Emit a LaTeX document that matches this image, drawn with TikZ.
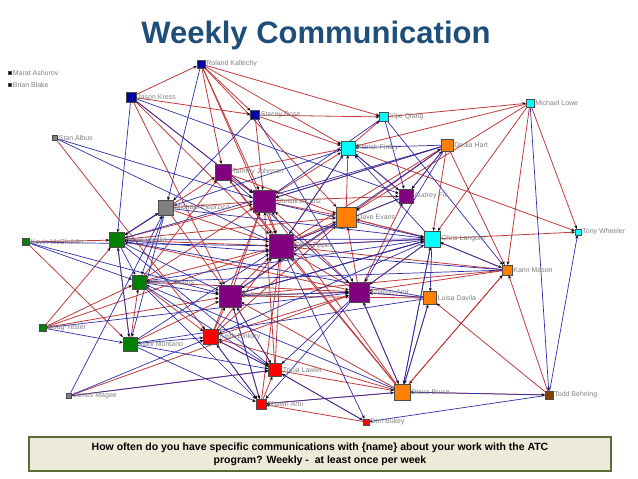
\documentclass[tikz,border=0pt]{standalone}
\usepackage{fontspec}
\setmainfont{Liberation Sans}
\usetikzlibrary{arrows.meta,backgrounds}
\definecolor{ttl}{HTML}{1F4E79}
\definecolor{re}{HTML}{C03A3A}
\definecolor{be}{HTML}{2E2EA8}
\definecolor{cnavy}{HTML}{0000A0}
\definecolor{ccyan}{HTML}{00FFFF}
\definecolor{corange}{HTML}{FF8000}
\definecolor{cpurple}{HTML}{800080}
\definecolor{cgray}{HTML}{808080}
\definecolor{cgreen}{HTML}{008000}
\definecolor{cred}{HTML}{FF0000}
\definecolor{cbrown}{HTML}{804000}
\definecolor{boxf}{HTML}{EEEADA}
\definecolor{boxd}{HTML}{5B6B3A}
\tikzset{
 lbl/.style={font=\fontsize{7}{8}\selectfont, text=gray, inner sep=1pt},
 nd/.style={draw=black!70, line width=0.3pt, inner sep=0pt, minimum size=#1},
 redge/.style={draw=re, line width=0.8pt, -{Stealth[length=3.5pt,width=3pt,black]}},
 bedge/.style={draw=be, line width=0.7pt, -{Stealth[length=3.5pt,width=3pt,black]}}
}
\newcommand{\nd}[7]{\node[nd=#4, fill=#5, label={[lbl]east:#6}] (#1) at (#2,#3) {};}
\begin{document}
\begin{tikzpicture}[x=1pt,y=-1pt]
\useasboundingbox (0,0) rectangle (638,479);
\node[text=ttl, font=\bfseries\fontsize{31}{34}\selectfont] (title) at (316,35) {Weekly Communication};
\nd{mar}{10}{73}{3}{black}{Marat Ashurov}{}
\nd{bri}{10}{85}{3}{black}{Brian Blake}{}
\nd{rol}{201}{64}{8}{cnavy}{Roland Kallechy}{}
\nd{jas}{131}{97}{10}{cnavy}{Jason Kress}{}
\nd{sta}{255}{115}{9}{cnavy}{Stacey Rose}{}
\nd{stan}{55}{138}{5}{cgray}{Stan Albus}{}
\nd{yij}{384}{117}{9}{ccyan}{Yijie Qiang}{}
\nd{mlo}{530}{103}{8}{ccyan}{Michael Lowe}{}
\nd{pat}{348}{148}{14}{ccyan}{Patrick Finley}{}
\nd{ded}{447}{145}{12}{corange}{Dedia Hart}{}
\nd{tam}{223}{172}{16}{cpurple}{Tammy Johnson}{}
\nd{chr}{264}{201}{22}{cpurple}{Christine Lurtz}{}
\nd{mpi}{166}{208}{15}{cgray}{Michael Pieprzica}{}
\nd{aud}{406}{196}{14}{cpurple}{Audrey Fix}{}
\nd{dav}{346}{217}{20}{corange}{Dave Evans}{}
\nd{ton}{578}{232}{6}{ccyan}{Tony Wheeler}{}
\nd{cla}{432}{239}{16}{ccyan}{Chris Langum}{}
\nd{cti}{281}{246}{24}{cpurple}{Chris Tippett}{}
\nd{kmc}{26}{242}{7}{cgreen}{Kevin McGlothlin}{}
\nd{kbr}{117}{240}{15}{cgreen}{Kevin Breslin}{}
\nd{kar}{507}{270}{10}{corange}{Karin Mason}{}
\nd{vic}{139}{282}{14}{cgreen}{Victoria Owens}{}
\nd{pol}{230}{296}{22}{cpurple}{Polly Kuhner}{}
\nd{col}{359}{292}{20}{cpurple}{Colleen Arni}{}
\nd{lui}{430}{298}{13}{corange}{Luisa Davila}{}
\nd{dou}{43}{328}{7}{cgreen}{Doug Yester}{}
\nd{mmo}{130}{344}{14}{cgreen}{Mark Montano}{}
\nd{kei}{211}{337}{15}{cred}{Keith Binkley}{}
\nd{tri}{275}{370}{13}{cred}{Tricia Lawler}{}
\nd{jam}{69}{396}{5}{cgray}{James Magee}{}
\nd{dia}{402}{392}{16}{corange}{Diana Bruce}{}
\nd{tod}{549}{395}{8}{cbrown}{Todd Behning}{}
\nd{sha}{261}{404}{10}{cred}{Shawn Arni}{}
\nd{don}{366}{422}{6}{cred}{Don Bukey}{}
\begin{scope}[on background layer]
\foreach \a/\b in {rol/sta,rol/tam,rol/chr,rol/cti,rol/yij,rol/pat,rol/dav,jas/rol,jas/sta,jas/chr,jas/cti,jas/pol,stan/kei,sta/yij,sta/pat,sta/chr,yij/mlo,mlo/pat,mlo/cla,mlo/kar,mlo/ton,mlo/dav,ded/cla,ded/kar,ded/dav,ded/chr,pat/ton,cla/ton,cla/kar,cla/cti,cla/pol,cla/dav,kar/cti,kar/pol,kar/col,kar/dia,lui/dia,lui/col,lui/pol,tod/lui,tod/kar,tod/dia,dia/cti,dia/pol,dia/kei,dia/chr,dia/tam,tri/don,tri/kei,tri/pol,tri/cti,tri/chr,sha/pol,sha/kei,sha/cti,sha/tri,don/sha,jam/col,jam/tri,dou/cti,dou/vic,dou/kbr,dou/pol,mmo/kbr,mmo/vic,mmo/pol,kmc/kbr,kmc/mmo,kbr/cti,kbr/tam,kbr/chr,kbr/col,vic/cti,vic/col,vic/chr,vic/tam,pol/cti,pol/chr,pol/col,pol/dav,col/cti,col/dav,col/chr,col/aud,col/cla,tam/chr,tam/cti,tam/dav,chr/dav,chr/aud,chr/pat,chr/cti,cti/dav,cti/aud,cti/pat,cti/ded,kei/cti,kei/chr,kei/col,kei/dav,mpi/chr,mpi/cti,mpi/pol,aud/ded,aud/pat,dav/pat,dav/cla,pat/yij,tam/pat,kei/pol,dia/col,dia/kar,sha/dia,tri/dia,kbr/dav,vic/kei}
  \draw[redge] (\a) -- (\b);
\foreach \a/\b in {jas/kbr,jas/chr,jas/aud,rol/mpi,sta/mpi,sta/col,stan/cti,stan/chr,yij/aud,yij/kar,yij/chr,pat/mpi,pat/aud,pat/cti,ded/aud,ded/pat,ded/pol,ded/col,ded/kbr,ded/chr,aud/cti,cla/pat,cla/dia,cla/kbr,cla/vic,cla/pol,cla/col,cla/kei,cla/lui,mlo/tod,tod/ton,tod/don,dia/tod,dia/sha,dia/vic,dia/lui,dia/cla,lui/kbr,lui/mmo,lui/col,kar/kbr,kar/vic,kar/cla,kmc/vic,kmc/pol,kmc/cti,kbr/vic,kbr/pol,kbr/mmo,kbr/tri,kbr/mpi,vic/pol,vic/sha,vic/tri,mmo/tri,mmo/sha,mmo/kei,mmo/cti,dou/mmo,dou/col,jam/kei,jam/tri,jam/mpi,pol/sha,pol/tri,pol/col,pol/cla,col/sha,col/dia,col/tri,cti/cla,cti/don,kei/sha,kei/tri,mpi/kbr,mpi/vic,mpi/cla,mpi/mmo,tam/col,chr/cla,don/tri}
  \draw[bedge] (\a) -- (\b);
\end{scope}
\node[draw=boxd, line width=1.5pt, fill=boxf, minimum width=582pt, minimum height=34pt, align=center,
  font=\bfseries\fontsize{10.5}{13}\selectfont] (q) at (320,454)
  {How often do you have specific communications with \{name\} about your work with the ATC\\program? Weekly -\ \ at least once per week};
\end{tikzpicture}
\end{document}
